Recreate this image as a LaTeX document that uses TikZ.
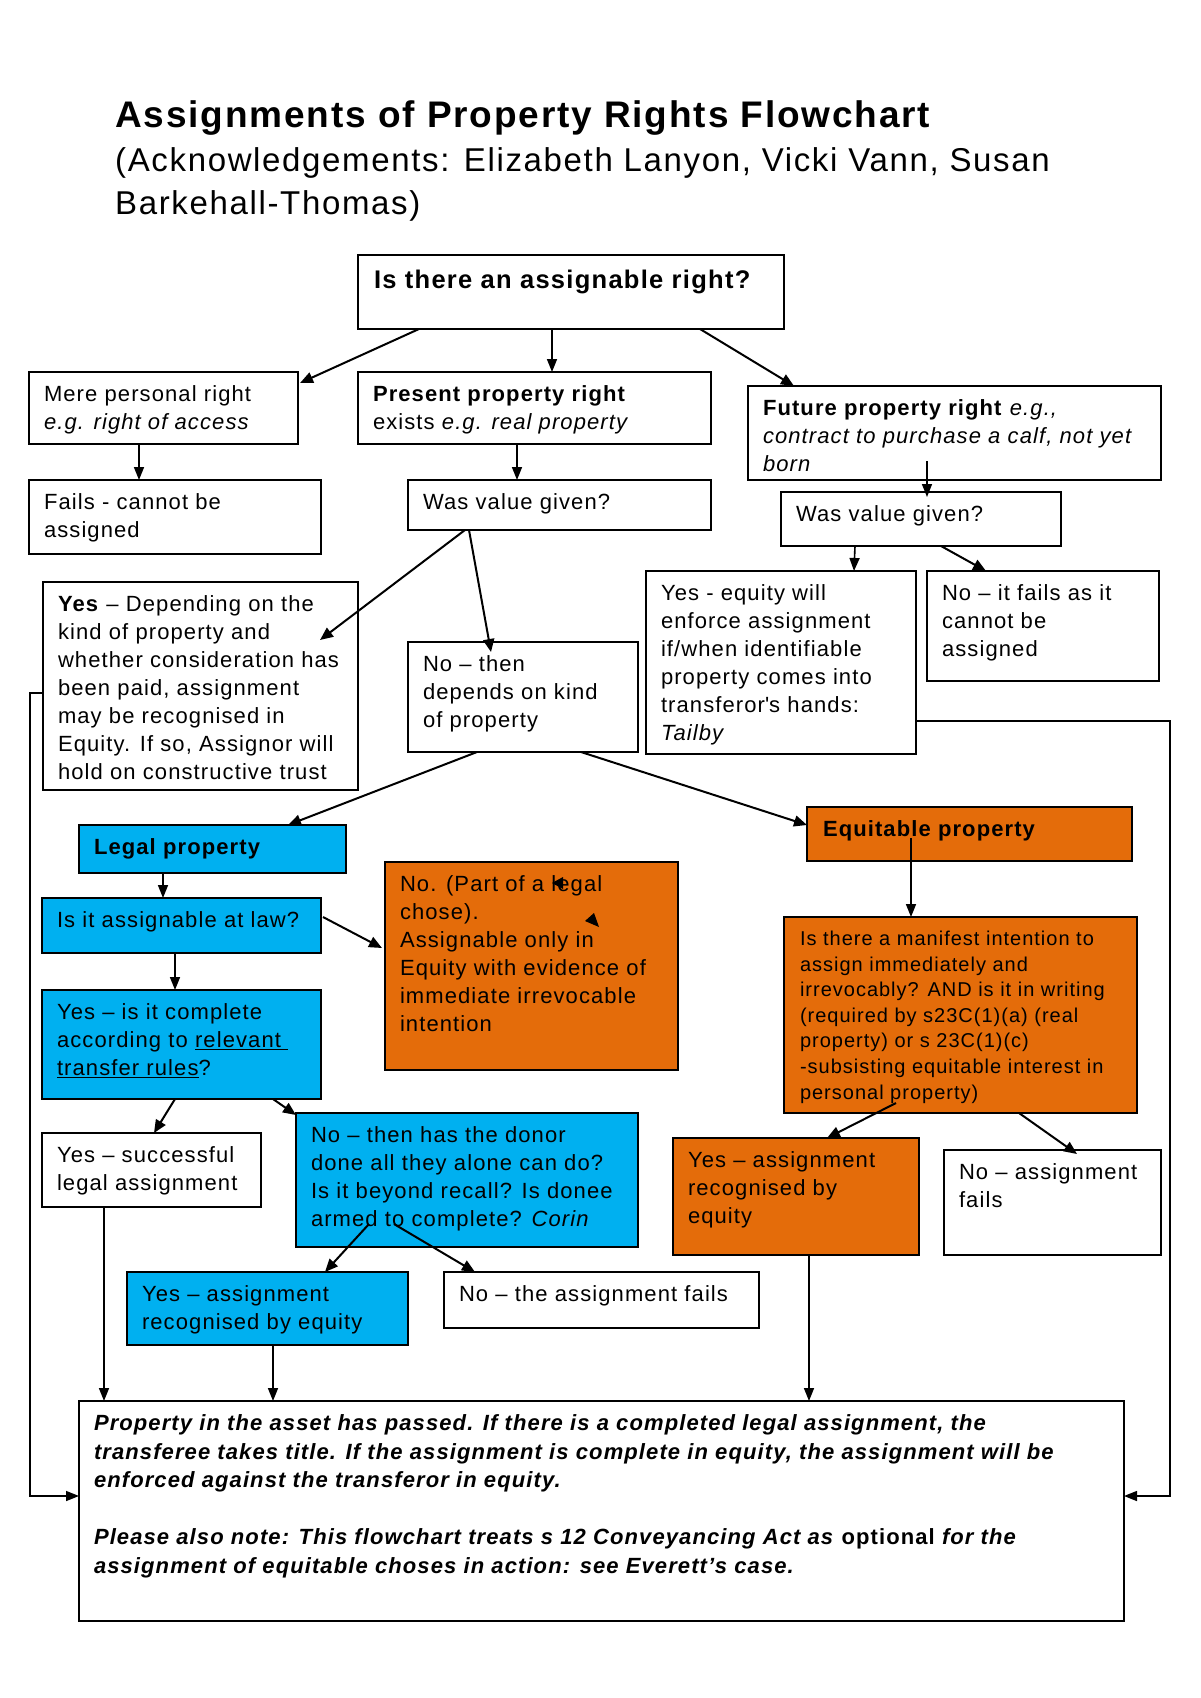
\documentclass[tikz,border=0pt]{standalone}
\usepackage{fontspec}
\setmainfont{Liberation Sans}[LetterSpace=5]
\newfontfamily\plainfont{Liberation Sans}[LetterSpace=5]
\usetikzlibrary{arrows.meta,calc}
\definecolor{cblue}{RGB}{0,176,240}
\definecolor{corange}{RGB}{228,108,10}
\begin{document}
\begin{tikzpicture}[x=1pt,y=-1pt,
  box/.style={draw, line width=2.6pt, anchor=north west, inner sep=0pt, outer sep=0pt},
  bbox/.style={box, fill=cblue},
  obox/.style={box, fill=corange},
  t/.style={anchor=north west, inner sep=0pt, outer sep=0pt, align=left, font=\fontsize{22}{28}\selectfont},
  arr/.style={line width=2pt, -{Triangle[length=13pt,width=11pt]}},
  varr/.style={line width=1.6pt, -{Triangle[length=13pt,width=10pt]}}]
\useasboundingbox (0,0) rectangle (1200,1698);

% title
\node[anchor=north west, inner sep=0pt, font=\fontsize{37}{44}\selectfont\bfseries] (title) at (115,100) {Assignments of Property Rights Flowchart};
\node[anchor=north west, inner sep=0pt, align=left, font=\fontsize{33}{43}\selectfont] (sub) at (115,147) {(Acknowledgements: Elizabeth Lanyon, Vicki Vann, Susan\\Barkehall-Thomas)};

% boxes
\node[box, minimum width=426pt, minimum height=74pt] (q) at (358,255) {};
\node[box, minimum width=269pt, minimum height=72pt] (mere) at (29,372) {};
\node[box, minimum width=353pt, minimum height=72pt] (pres) at (358,372) {};
\node[box, minimum width=413pt, minimum height=94pt] (fut) at (748,386) {};
\node[box, minimum width=292pt, minimum height=74pt] (fails) at (29,480) {};
\node[box, minimum width=303pt, minimum height=50pt] (wv1) at (408,480) {};
\node[box, minimum width=280pt, minimum height=54pt] (wv2) at (781,492) {};
\node[box, minimum width=315pt, minimum height=208pt] (yesdep) at (43,582) {};
\node[box, minimum width=230pt, minimum height=110pt] (nothen) at (408,642) {};
\node[box, minimum width=270pt, minimum height=183pt] (yeseq) at (646,571) {};
\node[box, minimum width=232pt, minimum height=110pt] (nofail) at (927,571) {};
\node[bbox, minimum width=267pt, minimum height=48pt] (legal) at (79,825) {};
\node[obox, minimum width=325pt, minimum height=54pt] (equit) at (807,807) {};
\node[obox, minimum width=293pt, minimum height=208pt] (nopart) at (385,862) {};
\node[bbox, minimum width=279pt, minimum height=55pt] (assign) at (42,898) {};
\node[bbox, minimum width=279pt, minimum height=109pt] (yescomp) at (42,990) {};
\node[obox, minimum width=353pt, minimum height=196pt] (manif) at (784,917) {};
\node[box, minimum width=219pt, minimum height=74pt] (yessucc) at (42,1133) {};
\node[bbox, minimum width=342pt, minimum height=134pt] (nodonor) at (296,1113) {};
\node[obox, minimum width=246pt, minimum height=117pt] (yesor) at (673,1138) {};
\node[box, minimum width=217pt, minimum height=105pt] (noassign) at (944,1150) {};
\node[bbox, minimum width=281pt, minimum height=73pt] (yesbl) at (127,1272) {};
\node[box, minimum width=315pt, minimum height=56pt] (nofails2) at (444,1272) {};
\node[box, minimum width=1045pt, minimum height=220pt] (final) at (79,1401) {};

% texts
\node[t, font=\fontsize{25.5}{30}\selectfont\bfseries] (tq) at ($(q.north west)+(16,15)$) {Is there an assignable right?};
\node[t] (tmere) at ($(mere.north west)+(15,14)$) {Mere personal right\\\textit{e.g. right of access}};
\node[t] (tpres) at ($(pres.north west)+(15,14)$) {\textbf{Present property right}\\exists \textit{e.g. real property}};
\node[t] (tfut) at ($(fut.north west)+(15,14)$) {\textbf{Future property right} \textit{e.g.,}\\\textit{contract to purchase a calf, not yet}\\\textit{born}};
\node[t] (tfails) at ($(fails.north west)+(15,14)$) {Fails - cannot be\\assigned};
\node[t] (twv1) at ($(wv1.north west)+(15,14)$) {Was value given?};
\node[t] (twv2) at ($(wv2.north west)+(15,14)$) {Was value given?};
\node[t] (tyesdep) at ($(yesdep.north west)+(15,14)$) {\textbf{Yes} – Depending on the\\kind of property and\\whether consideration has\\been paid, assignment\\may be recognised in\\Equity. If so, Assignor will\\hold on constructive trust};
\node[t] (tnothen) at ($(nothen.north west)+(15,14)$) {No – then\\depends on kind\\of property};
\node[t] (tyeseq) at ($(yeseq.north west)+(15,14)$) {Yes - equity will\\enforce assignment\\if/when identifiable\\property comes into\\transferor{\plainfont'}s hands:\\\textit{Tailby}};
\node[t] (tnofail) at ($(nofail.north west)+(15,14)$) {No – it fails as it\\cannot be\\assigned};
\node[t] (tlegal) at ($(legal.north west)+(15,14)$) {\textbf{Legal property}};
\node[t] (tequit) at ($(equit.north west)+(16,14)$) {\textbf{Equitable property}};
\node[t] (tnopart) at ($(nopart.north west)+(15,14)$) {No. (Part of a legal\\chose).\\Assignable only in\\Equity with evidence of\\immediate irrevocable\\intention};
\node[t] (tassign) at ($(assign.north west)+(15,14)$) {Is it assignable at law?};
\node[t] (tyescomp) at ($(yescomp.north west)+(15,14)$) {Yes – is it complete\\according to \underline{relevant\ }\\\underline{transfer rules}?};
\node[t, font=\fontsize{20}{25.6}\selectfont] (tmanif) at ($(manif.north west)+(16,14)$) {Is there a manifest intention to\\assign immediately and\\irrevocably? AND is it in writing\\(required by s23C(1)(a) (real\\property) or s 23C(1)(c)\\-subsisting equitable interest in\\personal property)};
\node[t] (tyessucc) at ($(yessucc.north west)+(15,14)$) {Yes – successful\\legal assignment};
\node[t] (tnodonor) at ($(nodonor.north west)+(15,14)$) {No – then has the donor\\done all they alone can do?\\Is it beyond recall? Is donee\\armed to complete? \textit{Corin}};
\node[t] (tyesor) at ($(yesor.north west)+(15,14)$) {Yes – assignment\\recognised by\\equity};
\node[t] (tnoassign) at ($(noassign.north west)+(15,14)$) {No – assignment\\fails};
\node[t] (tyesbl) at ($(yesbl.north west)+(15,14)$) {Yes – assignment\\recognised by equity};
\node[t] (tnofails2) at ($(nofails2.north west)+(15,14)$) {No – the assignment fails};
\node[t, font=\fontsize{22}{28.5}\selectfont\bfseries\itshape] (tfinal) at ($(final.north west)+(15,14)$) {Property in the asset has passed. If there is a completed legal assignment, the\\transferee takes title. If the assignment is complete in equity, the assignment will be\\enforced against the transferor in equity.\\[28.5pt]Please also note: This flowchart treats s 12 Conveyancing Act as \textup{optional} for the\\assignment of equitable choses in action:  see Everett’s case.};

% connectors
\draw[arr] ($(q.south west)+(61,0)$) -- ($(mere.north east)+(2,11)$);
\draw[varr] ($(q.south west)+(194,0)$) -- ($(pres.north west)+(194,0)$);
\draw[arr] ($(q.south west)+(342,0)$) -- ($(fut.north west)+(46,0)$);
\draw[varr] ($(mere.south west)+(110,0)$) -- ($(fails.north west)+(110,0)$);
\draw[varr] ($(pres.south west)+(159,0)$) -- ($(wv1.north west)+(109,0)$);
\draw[varr] ($(fut.north west)+(179,75)$) -- ($(wv2.north west)+(146,5)$);
\draw[varr] ($(wv2.south west)+(74,0)$) -- ($(yeseq.north west)+(208,0)$);
\draw[arr] ($(wv2.south west)+(160,0)$) -- ($(nofail.north west)+(59,0)$);
\draw[arr] ($(wv1.south west)+(57,0)$) -- ($(yesdep.north west)+(277,58)$);
\draw[arr] ($(wv1.south west)+(61,0)$) -- ($(nothen.north west)+(83,10)$);
\draw[arr] ($(nothen.south west)+(69,0)$) -- ($(legal.north west)+(209,0)$);
\draw[arr] ($(nothen.south west)+(173,0)$) -- ($(equit.north west)+(0,18)$);
\draw[varr] ($(legal.south west)+(84,0)$) -- ($(assign.north west)+(121,0)$);
\draw[varr] ($(assign.south west)+(133,0)$) -- ($(yescomp.north west)+(133,0)$);
\draw[arr] ($(assign.north east)+(2,19)$) -- ($(nopart.north west)+(-3,86)$);
\draw[varr] ($(equit.north west)+(104,31)$) -- ($(manif.north west)+(127,0)$);
\draw[arr] ($(yescomp.south west)+(133,0)$) -- ($(yessucc.north west)+(112,0)$);
\draw[arr] ($(yescomp.south west)+(231,0)$) -- ($(nodonor.north west)+(0,2)$);
\draw[arr] ($(manif.north west)+(112,186)$) -- ($(yesor.north west)+(154,0)$);
\draw[arr] ($(manif.south west)+(235,0)$) -- ($(noassign.north west)+(133,4)$);
\draw[arr] ($(nodonor.north west)+(73,111)$) -- ($(yesbl.north west)+(198,0)$);
\draw[arr] ($(nodonor.north west)+(98,111)$) -- ($(nofails2.north west)+(31,0)$);
\draw[varr] ($(yessucc.south west)+(62,0)$) -- ($(final.north west)+(25,0)$);
\draw[varr] ($(yesbl.south west)+(146,0)$) -- ($(final.north west)+(194,0)$);
\draw[varr] ($(yesor.south west)+(136,0)$) -- ($(final.north west)+(730,0)$);
\draw[varr] ($(yesdep.north west)+(0,111)$) -- ++(-13,0) |- ($(final.north west)+(0,95)$);
\draw[varr] ($(yeseq.north east)+(0,150)$) -- ++(254,0) |- ($(final.north east)+(0,95)$);

% stray arrowheads inside the orange box
\fill (552,883) -- (563,877) -- (563,889) -- cycle;
\fill (585,921) -- (594,913) -- (599,927) -- cycle;
\end{tikzpicture}
\end{document}
